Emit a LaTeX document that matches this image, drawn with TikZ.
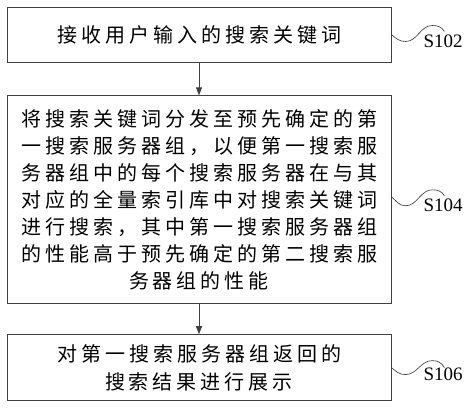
\documentclass[tikz,border=0pt]{standalone}
\usepackage{fontspec}
\setmainfont{Liberation Serif}
\newfontfamily\cjk{Noto Sans CJK SC}[LetterSpace=20.0]
\usetikzlibrary{arrows.meta, positioning}

\begin{document}
\begin{tikzpicture}[x=1pt, y=1pt, every node/.style={inner sep=0pt},
    stepbox/.style={draw=black!75, line width=0.8pt, minimum width=384pt, align=center, font=\cjk\fontsize{20}{27}\selectfont},
    steplabel/.style={font=\fontsize{19}{19}\selectfont},
    flow/.style={draw=black!75, line width=0.8pt, -{Triangle[length=8pt, width=6pt]}},
    wave/.style={draw=black!80, line width=0.6pt}]
                    \useasboundingbox (0,0) rectangle (474,412);
                    \node[stepbox, minimum height=55pt] (s102) at (199,377.5) {接收用户输入的搜索关键词};
                    \node[stepbox, minimum height=208pt, below=33pt of s102] (s104) {将搜索关键词分发至预先确定的第\\一搜索服务器组，以便第一搜索服\\务器组中的每个搜索服务器在与其\\对应的全量索引库中对搜索关键词\\进行搜索，其中第一搜索服务器组\\的性能高于预先确定的第二搜索服\\务器组的性能};
                    \node[stepbox, minimum height=66pt, below=30pt of s104] (s106) {对第一搜索服务器组返回的\\[1pt]搜索结果进行展示};
                    \node[steplabel, right=32pt of s102.east, yshift=-7pt] (l102) {S102};
                    \node[steplabel, right=32pt of s104.east, yshift=-5pt] (l104) {S104};
                    \node[steplabel, right=32pt of s106.east, yshift=-7pt] (l106) {S106};
                    \draw[flow] (s102) -- (s104);
                    \draw[flow] (s104) -- (s106);
                    \draw[wave] (s102.east) to[out=-40, in=180] ++(14,-7) to[out=0, in=180] ++(27,16) to[out=0, in=120] ++(12,-6);
                    \draw[wave] ([yshift=3pt]s104.east) to[out=-40, in=180] ++(14,-9) to[out=0, in=180] ++(27,16) to[out=0, in=120] ++(12,-6);
                    \draw[wave] (s106.east) to[out=-40, in=180] ++(14,-7) to[out=0, in=180] ++(27,14) to[out=0, in=120] ++(12,-7);
                \end{tikzpicture}
\end{document}
